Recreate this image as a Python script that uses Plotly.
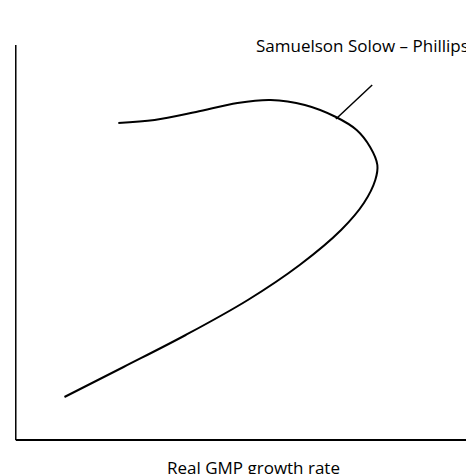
import plotly.graph_objects as go

# Hand-drawn curve (pixel-like coordinates)
curve_x = [63,120,180,240,290,330,352,363,365,358,345,325,295,262,230,190,150,115]
curve_y = [382,352,320,285,250,215,188,165,150,132,115,102,90,85,88,97,105,108]
pointer_x = [325,360]
pointer_y = [104,70]
yaxis_x = [16,16]; yaxis_y = [30,425]
xaxis_x = [16,474]; xaxis_y = [425,425]

fig = go.Figure()
fig.add_trace(go.Scatter(x=curve_x, y=curve_y, mode="lines", line=dict(color="black", width=2, shape="spline"), showlegend=False))
fig.add_trace(go.Scatter(x=pointer_x, y=pointer_y, mode="lines", line=dict(color="black", width=1.5), showlegend=False))
fig.add_trace(go.Scatter(x=yaxis_x, y=yaxis_y, mode="lines", line=dict(color="black", width=1.5), showlegend=False))
fig.add_trace(go.Scatter(x=xaxis_x, y=xaxis_y, mode="lines", line=dict(color="black", width=2), showlegend=False))

fig.add_annotation(x=246, y=30, text="Samuelson Solow – Phillips", showarrow=False, xanchor="left",
                   font=dict(family="Open Sans", size=17, color="black"))
fig.add_annotation(x=245, y=452, text="Real GMP growth rate", showarrow=False,
                   font=dict(family="Open Sans", size=17, color="black"))

fig.update_layout(width=474, height=474, margin=dict(l=0, r=0, t=0, b=0),
                  paper_bgcolor="white", plot_bgcolor="white",
                  xaxis=dict(range=[8.5,466], visible=False),
                  yaxis=dict(range=[467,-7], visible=False))
fig.write_html("out.html")
